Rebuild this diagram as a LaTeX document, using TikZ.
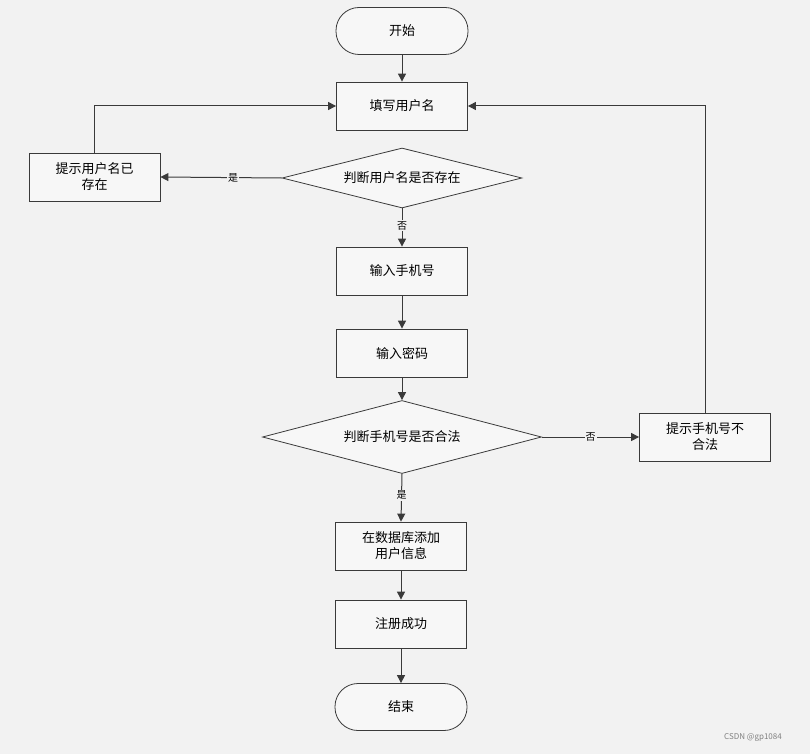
\documentclass[tikz,border=0pt]{standalone}
\usepackage{fontspec}
\setmainfont{Noto Sans CJK SC}
\usetikzlibrary{shapes.geometric,arrows.meta}
\definecolor{bg}{HTML}{F2F2F2}
\definecolor{bx}{HTML}{F7F7F7}
\definecolor{ln}{HTML}{3A3A3A}
\begin{document}
\begin{tikzpicture}[x=1pt,y=-1pt,
  base/.style={draw=ln,fill=bx,line width=0.8pt,font=\fontsize{13}{16}\selectfont,align=center,inner sep=1pt},
  box/.style={base,rectangle,minimum width=131pt,minimum height=48pt,text width=125pt},
  term/.style={base,rectangle,rounded corners=23pt,minimum width=132pt,minimum height=47pt},
  dia/.style={base,diamond,aspect=3.4,inner sep=0pt},
  arr/.style={draw=ln,line width=1pt,-{Triangle[length=8pt,width=8pt]}},
  lbl/.style={fill=bg,font=\fontsize{10}{12}\selectfont,inner sep=1pt}]
\fill[bg] (0,0) rectangle (810,754);
\node[term] (start) at (402,31) {开始};
\node[box] (fill) at (402,106) {填写用户名};
\node[dia,minimum width=240pt,minimum height=60pt] (d1) at (402,178) {判断用户名是否存在};
\node[box] (exist) at (94.5,177) {提示用户名已\\存在};
\node[box] (phone) at (402,271) {输入手机号};
\node[box] (pwd) at (402,353) {输入密码};
\node[dia,minimum width=279pt,minimum height=73pt] (d2) at (402,437) {判断手机号是否合法};
\node[box] (bad) at (705,437) {提示手机号不\\合法};
\node[box] (db) at (401,546) {在数据库添加\\用户信息};
\node[box] (ok) at (401,624) {注册成功};
\node[term] (end) at (401,707) {结束};
\node[text=gray,font=\fontsize{8}{10}\selectfont] (wm) at (753,738) {CSDN @gp1084};
\draw[arr] (start) -- (fill);
\draw[arr] (exist.north) |- (fill.west);
\draw[arr] (d1.west) -- node[lbl,pos=0.4]{是} (exist.east);
\draw[arr] (d1.south) -- node[lbl,pos=0.45]{否} (phone.north);
\draw[arr] (phone) -- (pwd);
\draw[arr] (pwd) -- (d2.north);
\draw[arr] (d2.east) -- node[lbl,pos=0.5]{否} (bad.west);
\draw[arr] (bad.north) |- (fill.east);
\draw[arr] (d2.south) -- node[lbl,pos=0.45]{是} (db.north);
\draw[arr] (db) -- (ok);
\draw[arr] (ok) -- (end);
\end{tikzpicture}
\end{document}
